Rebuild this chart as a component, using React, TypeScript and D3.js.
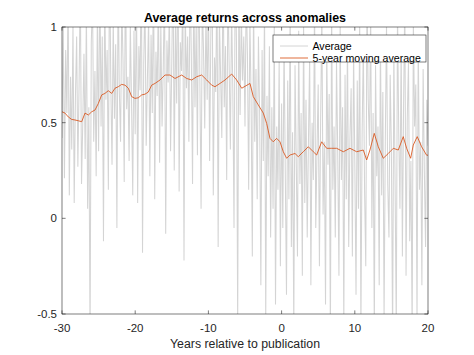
import React from "react";
import * as d3 from "d3";

const W = 474;
const H = 355;
const M = { left: 62, right: 428, top: 27, bottom: 314 };

const xTicks = [-30, -20, -10, 0, 10, 20];
const yTicks = [-0.5, 0, 0.5, 1];
const yTickLabels = ["-0.5", "0", "0.5", "1"];

const titleText = "Average returns across anomalies";
const xLabelText = "Years relative to publication";
const legendLabels = ["Average", "5-year moving average"];

// Average returns (one value every 2 months), years -30..20
const averageStart = -30;
const averageStep = 1 / 6;
const averageValues = [
  0.42, 1.05, 0.21, 0.88, 0.55, 1.18, 0.12, 0.74, 0.36, 1.02, 0.08, 0.63, 0.95, 0.27, 0.70, 1.25, 0.18, 0.49, 0.86, 0.31, 1.10, 0.05, 0.58, -0.62, 0.92, 1.15, 0.40, 0.77, 0.22, 1.08,
  0.35, 1.32, 0.48, 0.95, -0.12, 1.20, 0.62, 0.88, 0.15, 1.45, 0.70, 0.28, 1.05, 0.52, 0.91, -0.05, 1.28, 0.66, 0.40, 1.12, 0.83, 0.19, 1.38, 0.57, 0.74, 0.30, 1.02, 0.61, 0.12, 0.98,
  0.44, 1.26, 0.08, 0.90, 0.67, 1.40, -0.18, 0.81, 1.15, 0.38, 0.73, 1.05, 0.22, 0.96, 0.55, 1.33, 0.10, 0.87, 0.64, 1.18, 0.29, 1.02, 0.48, 0.79, 1.22, -0.08, 0.93, 0.71, 1.10, 0.35,
  0.82, 1.36, 0.25, 1.04, 0.60, 1.48, 0.14, 0.92, 0.77, 1.20, -0.22, 1.12, 0.68, 0.95, 0.40, 1.30, 0.85, 0.18, 1.25, 0.58, 1.02, 0.33, 1.42, 0.72, 0.05, 1.15, 0.88, 0.47, 1.08, 0.62,
  1.18, 0.30, 0.96, 1.40, 0.12, 0.84, 0.66, 1.28, -0.15, 1.05, 0.75, 0.42, 1.34, 0.58, 0.90, 0.20, 1.22, 0.81, 0.36, 1.10, 0.68, -0.05, 1.38, 0.92, -0.55, 1.25, 0.54, 1.08, 0.72, 0.95,
  0.48, 1.20, 0.85, 0.15, 1.05, 0.62, -0.20, 1.15, 0.40, 0.78, 0.10, 0.95, 0.55, -0.35, 0.88, 0.30, 1.12, -0.52, 0.64, 0.22, 0.90, -0.10, 0.58, 0.05, 1.02, -0.45, 0.48, 0.15, 0.82, -0.25,
  0.60, -0.05, 0.95, 0.25, -0.40, 0.72, 0.10, 1.10, -0.15, 0.45, -0.58, 0.80, 0.30, -0.20, 0.98, 0.18, 0.55, -0.30, 1.05, 0.08, 0.62, -0.10, 0.40, 0.85, -0.35, 0.50, 0.20, 1.15, -0.05, 0.35,
  0.70, -0.25, 0.52, 1.08, 0.02, 0.40, -0.45, 0.90, 0.28, 0.65, -0.62, 1.12, 0.15, 0.48, -0.10, 0.82, 0.35, -0.30, 1.02, 0.20, 0.58, -0.55, 0.75, 0.10, 0.95, -0.15, 0.42, 0.68, -0.20, 0.88,
  0.30, -0.40, 0.72, 0.05, 1.05, -0.58, 0.45, 0.90, 0.15, -0.25, 1.20, 0.62, 0.38, 1.08, -0.05, 0.55, -0.60, 0.80, 0.22, 0.48, -0.35, 0.95, 0.12, 0.66, -0.52, 0.40, 1.02, 0.18, -0.10, 0.75,
  0.35, -0.65, 0.88, 0.20, -0.58, 1.10, 0.45, 0.05, 0.92, -0.20, 0.60, 1.15, -0.30, 0.52, 0.82, -0.12, 0.30, -0.60, 1.05, 0.48, 0.70, -0.55, 0.95, 0.15, 0.40, -0.35, 0.78, 0.25, -0.15, 0.62, 0.38,
];

// 5-year moving average
const maYears = [
  -30, -29.59, -29.14, -28.68, -28.22, -27.77, -27.31, -26.86, -26.4, -25.94, -25.49, -25.04, -24.58, -24.13, -23.68, -23.21, -22.76, -22.31, -21.85, -21.39, -20.94, -20.48, -20.03, -19.58, -19.11, -18.66, -18.21, -17.75, -17.3,
  -16.61, -15.93, -15.25, -14.56, -13.65, -12.97, -12.28, -11.6, -10.92, -10.23, -9.55, -9.1, -8.42, -7.73, -6.82, -6.14, -5.45, -5.0,
  -4.32, -3.87, -3.19, -2.5, -2.04, -1.59, -1.14, -0.68, -0.22, 0.23, 0.69, 1.15, 1.83, 2.28, 2.96, 3.65, 4.33, 4.79, 5.47, 6.16, 6.84,
  7.52, 8.43, 9.34, 10.25, 11.16, 11.62, 12.07, 12.66, 13.21, 13.89, 14.58, 15.26, 15.94, 16.62, 17.08, 17.63, 17.99, 18.53, 19.13, 19.81, 20,
];
const maValues = [
  0.557, 0.55, 0.53, 0.517, 0.514, 0.51, 0.505, 0.55, 0.54, 0.557, 0.566, 0.6, 0.645, 0.653, 0.667, 0.653, 0.68, 0.688, 0.7, 0.696, 0.68, 0.636, 0.627, 0.63, 0.645, 0.649, 0.66, 0.696, 0.705,
  0.723, 0.749, 0.749, 0.731, 0.749, 0.731, 0.723, 0.74, 0.749, 0.723, 0.696, 0.688, 0.705, 0.723, 0.754, 0.723, 0.68, 0.69,
  0.705, 0.636, 0.593, 0.55, 0.496, 0.418, 0.4, 0.418, 0.4, 0.348, 0.314, 0.331, 0.339, 0.322, 0.348, 0.374, 0.348, 0.331, 0.4, 0.366, 0.366,
  0.366, 0.348, 0.366, 0.348, 0.357, 0.305, 0.357, 0.444, 0.374, 0.314, 0.339, 0.366, 0.357, 0.427, 0.366, 0.314, 0.383, 0.427, 0.374, 0.33, 0.33,
];

const FONT = "'Liberation Sans', Arial, Helvetica, sans-serif";
const AX = "#262626";
const GRAY = "#d4d4d4";
const ORANGE = "#D95319";

export default function App() {
  const x = d3.scaleLinear().domain([-30, 20]).range([M.left, M.right]);
  const y = d3.scaleLinear().domain([-0.5, 1]).range([M.bottom, M.top]);

  const avgData = averageValues.map((v, i) => [averageStart + i * averageStep, v] as [number, number]);
  const maData = maYears.map((t, i) => [t, maValues[i]] as [number, number]);

  const line = d3
    .line<[number, number]>()
    .x((d) => x(d[0]))
    .y((d) => y(d[1]));

  const tl = 3.6;
  const legX = 273;
  const legY = 35;
  const legW = 153;
  const legH = 27;

  return (
    <svg
      width={W}
      height={H}
      style={{ position: "absolute", left: 0, top: 0, display: "block", background: "#fff" }}
      fontFamily={FONT}
    >
      <defs>
        <clipPath id="plotclip">
          <rect x={M.left} y={M.top} width={M.right - M.left} height={M.bottom - M.top} />
        </clipPath>
      </defs>
      <rect x={0} y={0} width={W} height={H} fill="#fff" />
      <g clipPath="url(#plotclip)">
        <path d={line(avgData) || ""} fill="none" stroke={GRAY} strokeWidth={1.05} />
        <path d={line(maData) || ""} fill="none" stroke={ORANGE} strokeWidth={0.85} strokeLinejoin="round" />
      </g>
      <rect
        x={M.left}
        y={M.top}
        width={M.right - M.left}
        height={M.bottom - M.top}
        fill="none"
        stroke={AX}
        strokeWidth={0.6}
      />
      {xTicks.map((t) => (
        <g key={"xt" + t}>
          <line x1={x(t)} x2={x(t)} y1={M.bottom} y2={M.bottom - tl} stroke={AX} strokeWidth={0.6} />
          <line x1={x(t)} x2={x(t)} y1={M.top} y2={M.top + tl} stroke={AX} strokeWidth={0.6} />
          <text x={x(t)} y={M.bottom + 18} textAnchor="middle" fontSize={11.5} fill={AX}>
            {t}
          </text>
        </g>
      ))}
      {yTicks.map((t, i) => (
        <g key={"yt" + t}>
          <line x1={M.left} x2={M.left + tl} y1={y(t)} y2={y(t)} stroke={AX} strokeWidth={0.6} />
          <line x1={M.right} x2={M.right - tl} y1={y(t)} y2={y(t)} stroke={AX} strokeWidth={0.6} />
          <text x={M.left - 5} y={y(t)} dy="0.35em" textAnchor="end" fontSize={11.5} fill={AX}>
            {yTickLabels[i]}
          </text>
        </g>
      ))}
      <text x={(M.left + M.right) / 2} y={22} textAnchor="middle" fontSize={12.4} fontWeight="bold" fill="#000">
        {titleText}
      </text>
      <text x={(M.left + M.right) / 2} y={347.5} textAnchor="middle" fontSize={12.3} fill={AX}>
        {xLabelText}
      </text>
      <rect x={legX} y={legY} width={legW} height={legH} fill="#fff" stroke={AX} strokeWidth={0.6} />
      <line x1={280} x2={308} y1={46} y2={46} stroke={GRAY} strokeWidth={1} />
      <line x1={280} x2={308} y1={58} y2={58} stroke={ORANGE} strokeWidth={0.85} />
      <text x={312.5} y={46} dy="0.35em" fontSize={10.6} fill="#000">
        {legendLabels[0]}
      </text>
      <text x={312.5} y={58} dy="0.35em" fontSize={10.6} fill="#000">
        {legendLabels[1]}
      </text>
    </svg>
  );
}
